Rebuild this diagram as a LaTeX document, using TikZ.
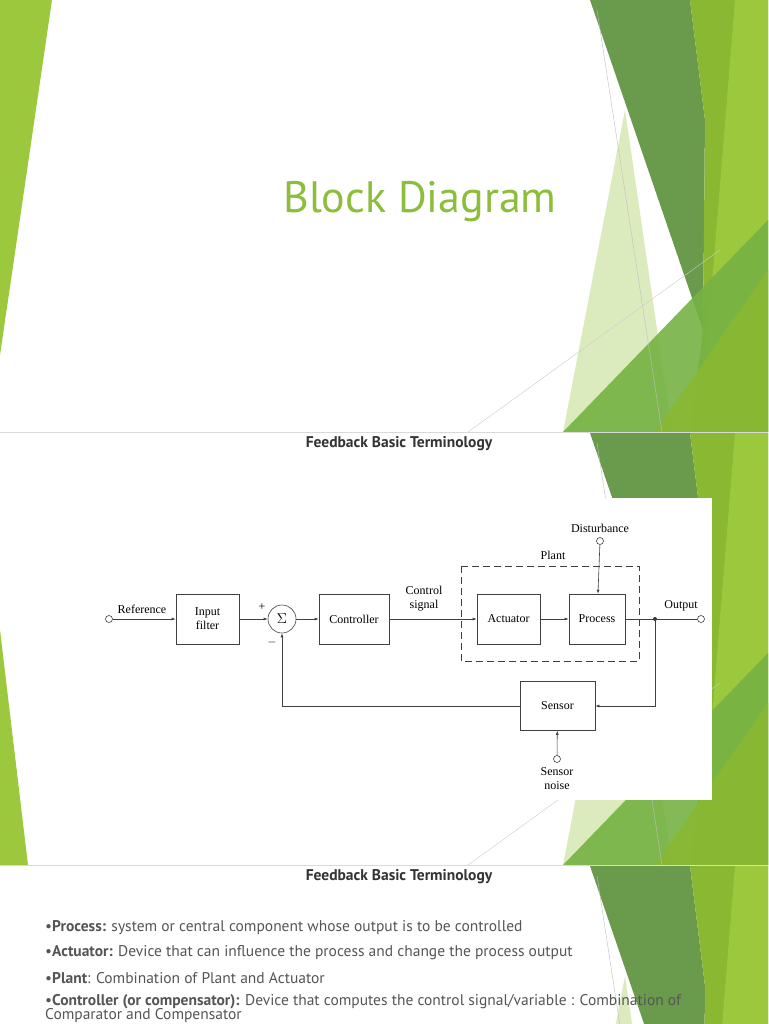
\documentclass[tikz,border=0pt]{standalone}
\usepackage{fontspec}
\setmainfont{Liberation Serif}
\newfontfamily\slidefont{PT Sans}
\usetikzlibrary{arrows.meta}
\definecolor{dkg}{HTML}{6A9A4C}
\definecolor{lime}{HTML}{8AB833}
\definecolor{limeb}{HTML}{9CC83E}
\definecolor{midg}{HTML}{76B244}
\definecolor{lig}{HTML}{D3E6AE}
\definecolor{titleg}{HTML}{8DBE3B}
\definecolor{txtg}{HTML}{555555}
\tikzset{
  blk/.style={draw=black!75,line width=0.6pt,minimum width=63pt,minimum height=50pt,inner sep=0pt,font=\fontsize{12}{14}\selectfont,align=center},
  lbl/.style={font=\fontsize{12}{14}\selectfont,align=center,inner sep=0pt},
  term/.style={circle,draw=black!75,line width=0.6pt,fill=white,minimum size=7pt,inner sep=0pt},
  sig/.style={line width=0.6pt,draw=black!75,-{Latex[length=4pt,width=3pt]}},
  ln/.style={line width=0.6pt,draw=black!75},
  bul/.style={anchor=west,font=\slidefont\fontsize{15.5}{17}\selectfont,text=txtg,inner sep=0pt},
  head/.style={font=\slidefont\bfseries\fontsize{15.5}{17}\selectfont,text=black!80,inner sep=0pt},
}
\newcommand{\deco}[1]{%
 \begin{scope}[yshift=-#1pt]
  \fill[lig,opacity=0.8] (625,110) -- (672,432) -- (563,432) -- cycle;
  \fill[dkg] (590,0) -- (690,0) -- (705,120) -- (703,330) -- cycle;
  \fill[lime] (690,0) -- (768,0) -- (768,432) -- (690,432) -- (703,330) -- (705,120) -- cycle;
  \fill[limeb] (735,0) -- (768,0) -- (768,432) -- (700,432) -- cycle;
  \fill[midg,opacity=0.9] (563,432) -- (768,220) -- (768,432) -- cycle;
  \fill[lime,opacity=0.9] (655,432) -- (768,270) -- (768,432) -- cycle;
  \draw[black!25,line width=0.4pt] (597,10) -- (662,432);
  \draw[black!20,line width=0.4pt] (468,432) -- (720,250);
 \end{scope}}
\begin{document}
\begin{tikzpicture}[x=1pt,y=-1pt]
\useasboundingbox (0,0) rectangle (768,1024);
\fill[white] (0,0) rectangle (768,1024);
% slides
\deco{0}
\deco{433}
\deco{866}
\fill[limeb] (0,0) -- (52,0) -- (0,355) -- cycle;
\fill[limeb] (0,630) -- (28,865) -- (0,865) -- cycle;
\draw[black!15,line width=0.8pt] (0,432.5) -- (768,432.5);
\draw[black!15,line width=0.8pt] (0,865.5) -- (768,865.5);
\node[font=\slidefont\fontsize{44}{48}\selectfont,text=titleg] (title) at (420,202) {Block Diagram};
\node[head] (h1) at (399,444) {Feedback Basic Terminology};
\node[head] (h2) at (399,877) {Feedback Basic Terminology};
% diagram panel
\fill[white] (90,498) rectangle (712,800);
\node[term] (ref) at (109,619) {};
\node[lbl] (reflbl) at (142,609) {Reference};
\node[blk] (filt) at (207.5,619) {Input\\filter};
\node[circle,draw=black!75,line width=0.6pt,minimum size=28pt,inner sep=0pt,font=\fontsize{15}{16}\selectfont] (sum) at (282,619) {$\Sigma$};
\node[lbl] (plus) at (262,607) {+};
\node[lbl] (minus) at (272,642) {$-$};
\node[blk,minimum width=70pt] (ctrl) at (354,619) {Controller};
\node[lbl] (cs) at (424,599) {Control\\signal};
\draw[ln,dashed,dash pattern=on 7pt off 4pt] (461,566) rectangle (639,661);
\node[lbl] (plant) at (553,555) {Plant};
\node[blk] (act) at (508.5,619) {Actuator};
\node[blk,minimum width=56pt] (proc) at (597,619) {Process};
\node[term] (dist) at (600,541) {};
\node[lbl] (distlbl) at (600,528) {Disturbance};
\fill[black!80] (655,619) circle (2pt);
\coordinate (jn) at (655,619);
\node[term] (out) at (701,619) {};
\node[lbl] (outlbl) at (681,606) {Output};
\node[blk,minimum width=75pt,minimum height=49pt] (sens) at (557.5,706) {Sensor};
\node[term] (noise) at (557,759) {};
\node[lbl] (noiselbl) at (557,779) {Sensor\\noise};
\draw[sig] (ref) -- (filt);
\draw[sig] (filt) -- (sum);
\draw[sig] (sum) -- (ctrl);
\draw[sig] (ctrl) -- (act);
\draw[sig] (act) -- (proc);
\draw[sig] (dist) -- (proc);
\draw[ln] (proc) -- (out);
\draw[sig] (jn) |- (sens);
\draw[sig] (sens.west) -| (sum.south);
\draw[sig] (noise) -- (sens);
% bullets
\node[bul] (b1) at (45,928) {•\textbf{Process:} system or central component whose output is to be controlled};
\node[bul] (b2) at (45,953) {•\textbf{Actuator:} Device that can influence the process and change the process output};
\node[bul] (b3) at (45,978) {•\textbf{Plant}: Combination of Plant and Actuator};
\node[bul] (b4) at (45,1002) {•\textbf{Controller (or compensator):} Device that computes the control signal/variable : Combination of};
\node[bul] (b5) at (45,1016) {Comparator and Compensator};
\end{tikzpicture}
\end{document}
